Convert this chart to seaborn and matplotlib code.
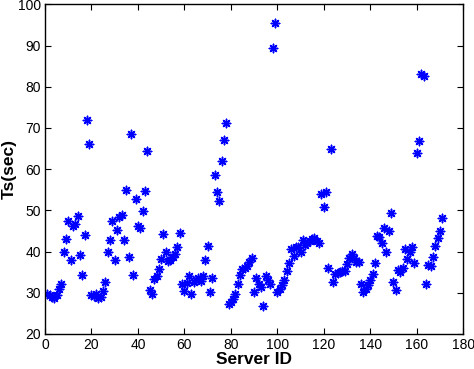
import matplotlib
matplotlib.use("Agg")
import matplotlib.pyplot as plt
import seaborn as sns
import pandas as pd

server_ids = list(range(1, 172))
ts_sec = [
    29.6, 29.4, 29.0, 28.7, 29.4, 30.8, 32.1, 39.8, 43.0, 47.4,
    38.0, 46.2, 46.8, 48.6, 39.1, 34.3, 44.0, 71.9, 66.0, 29.4,
    29.2, 29.6, 28.8, 29.0, 30.5, 32.5, 39.8, 42.8, 47.4, 38.0,
    45.2, 48.3, 48.9, 42.7, 54.9, 38.7, 68.6, 34.3, 52.7, 46.2,
    45.6, 49.8, 54.7, 64.4, 30.7, 29.7, 33.3, 34.1, 35.7, 38.1,
    44.2, 39.9, 37.7, 38.0, 38.8, 39.5, 41.2, 44.5, 32.1, 30.5,
    32.3, 34.1, 29.7, 32.5, 33.0, 33.6, 32.8, 34.0, 38.0, 41.4,
    30.2, 33.5, 58.5, 54.4, 52.3, 61.9, 67.2, 71.1, 27.2, 27.8,
    28.5, 29.7, 32.1, 34.3, 35.7, 36.0, 36.5, 37.5, 38.5, 30.2,
    33.7, 32.1, 31.3, 26.8, 34.1, 33.0, 32.1, 89.5, 95.6, 30.2,
    31.0, 32.0, 33.0, 35.3, 37.3, 40.6, 39.0, 41.0, 41.2, 40.0,
    42.8, 41.5, 42.0, 42.5, 43.0, 43.4, 42.5, 42.2, 53.9, 50.9,
    54.4, 35.9, 64.9, 32.6, 34.5, 34.8, 35.0, 35.2, 35.3, 36.9,
    38.5, 39.3, 38.5, 37.5, 37.5, 32.1, 30.2, 31.0, 32.0, 33.0,
    34.5, 37.2, 43.9, 43.5, 42.2, 45.6, 39.9, 45.0, 49.3, 32.5,
    30.7, 35.5, 35.0, 35.9, 40.7, 38.3, 40.0, 41.2, 37.3, 64.0,
    66.8, 83.2, 82.7, 32.1, 36.7, 36.5, 38.8, 41.4, 43.4, 45.0,
    48.2,
]
x_ticks = [0, 20, 40, 60, 80, 100, 120, 140, 160, 180]
y_ticks = [20, 30, 40, 50, 60, 70, 80, 90, 100]

df = pd.DataFrame({"Server ID": server_ids, "Ts(sec)": ts_sec})

sns.set_theme(style="ticks")
plt.rcParams["font.family"] = ["Liberation Sans", "DejaVu Sans"]
plt.rcParams["text.color"] = "black"
plt.rcParams["axes.labelcolor"] = "black"
plt.rcParams["xtick.color"] = "black"
plt.rcParams["ytick.color"] = "black"

fig = plt.figure(figsize=(4.74, 3.69), dpi=100)
ax = fig.add_axes([0.095, 0.095, 0.882, 0.893])

sns.scatterplot(data=df, x="Server ID", y="Ts(sec)", ax=ax,
                marker=(8, 2, 0), color="#0000FF", s=36, linewidth=1.1,
                legend=False)

ax.set_xlim(0, 180)
ax.set_ylim(20, 100)
ax.set_xticks(x_ticks)
ax.set_yticks(y_ticks)
ax.tick_params(direction="in", length=4, width=0.8, labelsize=10,
               top=True, right=True, pad=3, colors="black")
for sp in ax.spines.values():
    sp.set_visible(True)
    sp.set_linewidth(1.0)
    sp.set_color("black")
ax.set_xlabel("Server ID", fontsize=12.5, fontweight="bold", labelpad=0)
ax.set_ylabel("Ts(sec)", fontsize=12.5, fontweight="bold")
ax.yaxis.set_label_coords(-0.068, 0.5)

fig.savefig("out.png", dpi=100)
